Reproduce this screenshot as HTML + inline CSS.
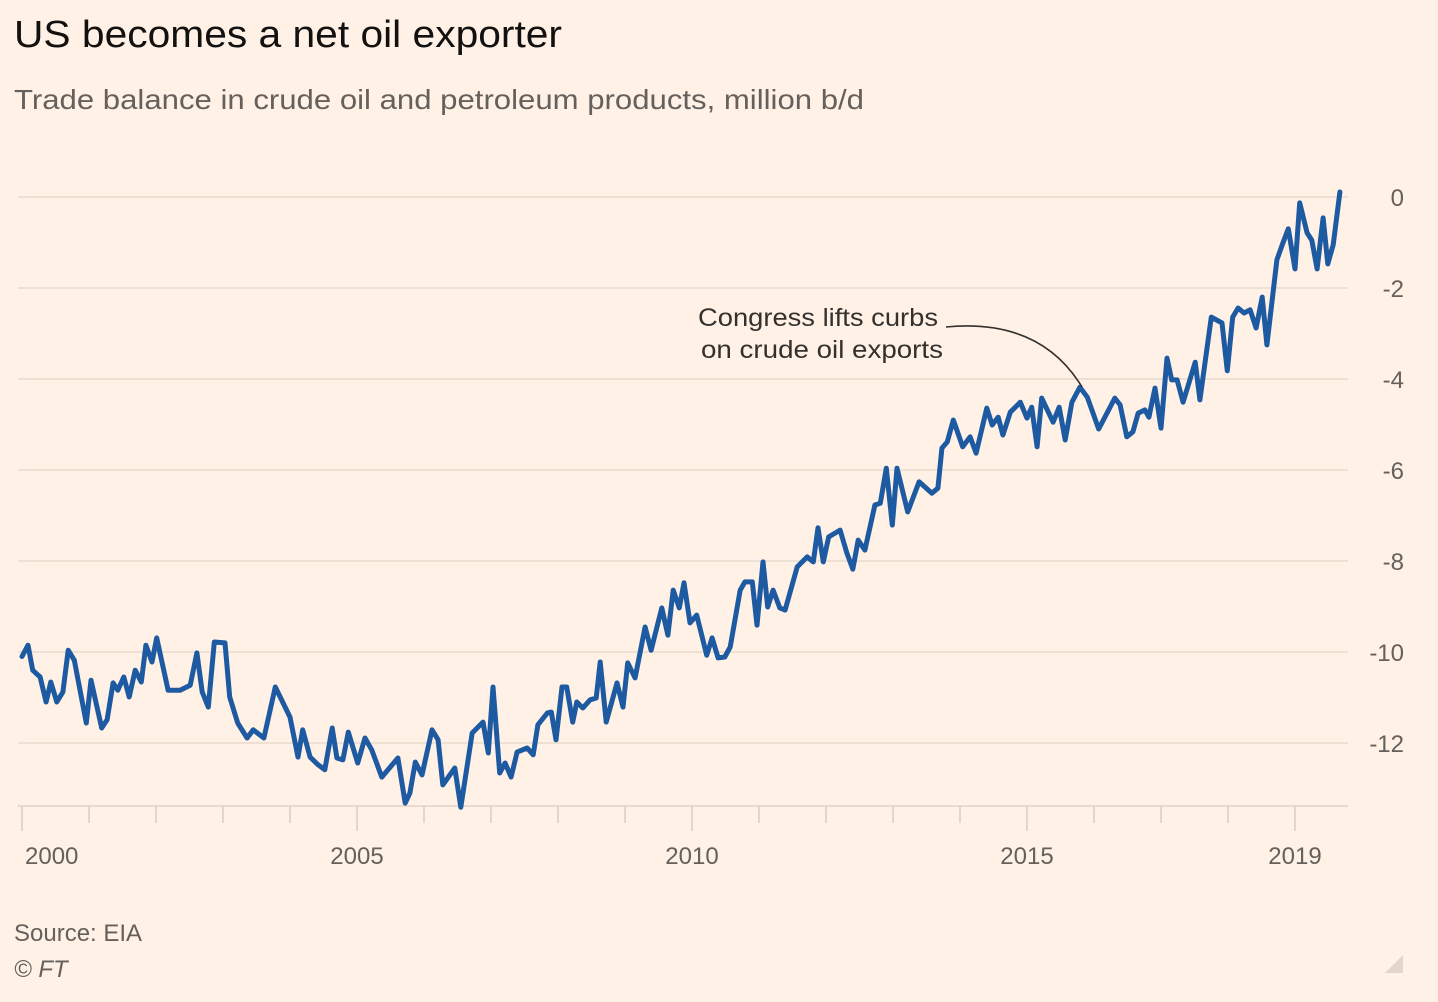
<!DOCTYPE html>
<html><head><meta charset="utf-8"><style>
html,body{margin:0;padding:0;background:#fff1e5;}
svg{display:block;font-family:"Liberation Sans",sans-serif;}
</style></head><body>
<svg id="chart" width="1438" height="1002" viewBox="0 0 1438 1002" xmlns="http://www.w3.org/2000/svg">
<rect width="1438" height="1002" fill="#fff1e5"/>
<text x="14" y="47" font-size="38" fill="#121110" textLength="548" lengthAdjust="spacingAndGlyphs">US becomes a net oil exporter</text>
<text x="14" y="109" font-size="28" fill="#66605c" textLength="850" lengthAdjust="spacingAndGlyphs">Trade balance in crude oil and petroleum products, million b/d</text>
<g id="grid"></g>
<g id="yticks"></g>
<g id="xaxis"></g>
<path id="line" fill="none" stroke="#1d5aa1" stroke-width="5" stroke-linejoin="round" stroke-linecap="round"/>
<g>
<text x="698" y="326" font-size="25" fill="#33302e" textLength="240" lengthAdjust="spacingAndGlyphs">Congress lifts curbs</text>
<text x="701" y="358" font-size="25" fill="#33302e" textLength="242" lengthAdjust="spacingAndGlyphs">on crude oil exports</text>
<path d="M946,327 Q1040,318 1082,387" fill="none" stroke="#33302e" stroke-width="1.6"/>
</g>
<text x="14" y="941" font-size="24" fill="#66605c">Source: EIA</text>
<text x="14" y="977" font-size="24" fill="#66605c" font-style="italic">© FT</text>
<polygon points="1403,955 1403,973 1385,973" fill="#e0d6cc"/>
</svg>
<script>
const years = [2000.00,2000.09,2000.16,2000.27,2000.36,2000.43,2000.52,2000.61,2000.69,2000.78,2000.96,2001.03,2001.19,2001.27,2001.36,2001.43,2001.52,2001.60,2001.69,2001.78,2001.85,2001.94,2002.01,2002.18,2002.36,2002.51,2002.61,2002.69,2002.78,2002.87,2003.03,2003.10,2003.22,2003.36,2003.45,2003.61,2003.78,2004.00,2004.12,2004.19,2004.30,2004.42,2004.52,2004.63,2004.70,2004.79,2004.87,2005.01,2005.12,2005.22,2005.37,2005.61,2005.72,2005.79,2005.87,2005.97,2006.12,2006.21,2006.28,2006.46,2006.55,2006.72,2006.88,2006.96,2007.03,2007.13,2007.21,2007.30,2007.39,2007.54,2007.63,2007.70,2007.84,2007.90,2007.97,2008.06,2008.13,2008.22,2008.28,2008.37,2008.48,2008.57,2008.63,2008.72,2008.88,2008.97,2009.04,2009.15,2009.30,2009.39,2009.55,2009.64,2009.72,2009.81,2009.88,2009.97,2010.07,2010.22,2010.30,2010.39,2010.49,2010.57,2010.72,2010.79,2010.90,2010.97,2011.06,2011.13,2011.21,2011.31,2011.39,2011.57,2011.72,2011.81,2011.88,2011.96,2012.04,2012.21,2012.31,2012.40,2012.48,2012.58,2012.73,2012.81,2012.90,2012.99,2013.06,2013.22,2013.39,2013.58,2013.67,2013.73,2013.81,2013.90,2014.04,2014.15,2014.24,2014.40,2014.48,2014.57,2014.64,2014.75,2014.90,2015.00,2015.07,2015.15,2015.22,2015.39,2015.48,2015.57,2015.67,2015.79,2015.90,2016.07,2016.31,2016.39,2016.49,2016.58,2016.66,2016.76,2016.82,2016.91,2017.00,2017.09,2017.16,2017.24,2017.33,2017.51,2017.58,2017.75,2017.91,2017.99,2018.07,2018.15,2018.24,2018.33,2018.42,2018.51,2018.58,2018.73,2018.82,2018.90,2019.00,2019.07,2019.18,2019.25,2019.33,2019.42,2019.49,2019.57,2019.67];
const values = [-10.10,-9.85,-10.40,-10.55,-11.10,-10.66,-11.10,-10.88,-9.96,-10.18,-11.56,-10.62,-11.67,-11.49,-10.68,-10.84,-10.55,-10.99,-10.40,-10.66,-9.85,-10.22,-9.69,-10.84,-10.84,-10.73,-10.02,-10.88,-11.21,-9.78,-9.80,-10.99,-11.56,-11.89,-11.71,-11.89,-10.77,-11.43,-12.31,-11.71,-12.31,-12.48,-12.59,-11.67,-12.33,-12.37,-11.76,-12.44,-11.89,-12.15,-12.75,-12.33,-13.32,-13.10,-12.42,-12.70,-11.71,-11.93,-12.92,-12.55,-13.41,-11.78,-11.54,-12.22,-10.77,-12.66,-12.44,-12.75,-12.20,-12.11,-12.26,-11.60,-11.34,-11.32,-11.93,-10.77,-10.77,-11.54,-11.10,-11.23,-11.05,-11.01,-10.22,-11.54,-10.68,-11.21,-10.24,-10.57,-9.45,-9.96,-9.03,-9.63,-8.64,-9.03,-8.48,-9.36,-9.19,-10.07,-9.69,-10.13,-10.11,-9.89,-8.64,-8.46,-8.46,-9.41,-8.02,-9.01,-8.64,-9.03,-9.08,-8.13,-7.91,-8.02,-7.27,-8.02,-7.47,-7.32,-7.82,-8.18,-7.54,-7.76,-6.77,-6.73,-5.96,-7.21,-5.96,-6.92,-6.26,-6.51,-6.40,-5.52,-5.38,-4.90,-5.49,-5.27,-5.63,-4.64,-5.01,-4.84,-5.23,-4.73,-4.51,-4.86,-4.62,-5.49,-4.42,-4.95,-4.62,-5.34,-4.51,-4.18,-4.40,-5.10,-4.42,-4.57,-5.27,-5.16,-4.75,-4.68,-4.84,-4.20,-5.08,-3.54,-4.02,-4.02,-4.51,-3.63,-4.46,-2.64,-2.77,-3.82,-2.64,-2.44,-2.55,-2.48,-2.88,-2.20,-3.25,-1.38,-1.01,-0.70,-1.58,-0.13,-0.79,-0.95,-1.58,-0.46,-1.47,-1.05,0.11];
const yTicks = [0,-2,-4,-6,-8,-10,-12];
const yTickLabels = ["0","-2","-4","-6","-8","-10","-12"];
const xTickYears = [2000,2001,2002,2003,2004,2005,2006,2007,2008,2009,2010,2011,2012,2013,2014,2015,2016,2017,2018,2019];
const xLabelYears = [2000,2005,2010,2015,2019];

const NS = "http://www.w3.org/2000/svg";
const xs = y => 22 + (y - 2000) * 67;
const ys = v => 197 - v * 45.5;
function mk(tag, attrs, parent){const e=document.createElementNS(NS,tag);for(const k in attrs)e.setAttribute(k,attrs[k]);parent.appendChild(e);return e;}

const grid = document.getElementById('grid'), yt = document.getElementById('yticks'), xa = document.getElementById('xaxis');
yTicks.forEach((v,i)=>{
  const l = mk('line',{x1:18,x2:1348,y1:ys(v),y2:ys(v),stroke:'#e9dccf','stroke-width':1.6},grid);
  
  
  const t = mk('text',{x:1404,y:ys(v)+9,'font-size':24,fill:'#66605c','text-anchor':'end'},yt);
  t.textContent = yTickLabels[i];
  
  
});
const base = mk('line',{x1:18,x2:1348,y1:806,y2:806,stroke:'#e0d3c6','stroke-width':1.6},xa);


xTickYears.forEach(y=>{
  const major = xLabelYears.includes(y);
  const tk = mk('line',{x1:xs(y),x2:xs(y),y1:806,y2:major?831:823,stroke:'#ddd0c3','stroke-width':1.6},xa);
  
  
});
xLabelYears.forEach((y,i)=>{
  const t = mk('text',{x:i===0?xs(y)+3:xs(y),y:864,'font-size':24,fill:'#66605c','text-anchor':i===0?'start':'middle'},xa);
  t.textContent = String(y);
  
  
});
document.getElementById('line').setAttribute('d', years.map((y,i)=>(i?'L':'M')+xs(y).toFixed(1)+','+ys(values[i]).toFixed(1)).join(''));
</script>
</body></html>
